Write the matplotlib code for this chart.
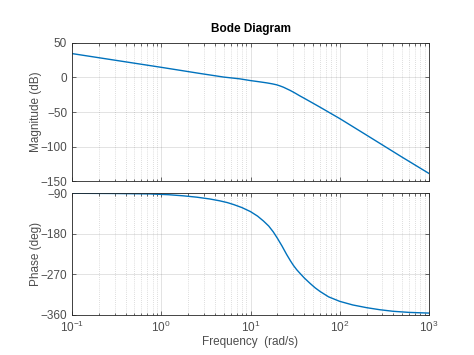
import numpy as np
import matplotlib
matplotlib.use("Agg")
import matplotlib.pyplot as plt

# values
freq_mag = [0.1, 0.3, 1, 2.72, 5, 7.6, 10, 12.5, 15.2, 17.5, 19.6, 21.4, 23.5, 25.4,
            27.7, 31, 35.9, 41, 46.4, 53, 60.1, 68, 77.6, 100, 200, 500, 1000]
mag_db = [34.6, 25.1, 14.7, 5.8, 0.6, -2.0, -4.5, -6.2, -7.8, -9.2, -10.6, -12.2,
          -14.2, -16.3, -18.6, -22.0, -26.8, -30.9, -34.8, -39.0, -43.0, -47.0,
          -51.3, -59.5, -83.5, -115.4, -139.0]

freq_ph = [0.1, 0.3, 0.75, 1.2, 1.77, 2.5, 3.5, 4.5, 5.5, 6.5, 8, 10, 12, 14, 16,
           18, 20, 22.5, 25.4, 28, 30.2, 33, 35.9, 40, 46.4, 53, 60.1, 75, 100,
           140, 200, 280, 395, 600, 1000]
phase_deg = [-90.3, -90.8, -91.8, -93.5, -96, -99, -103, -107, -111, -115.5, -122,
             -131, -141, -152, -163, -176, -190, -207, -226, -240, -250, -260,
             -268, -278, -290, -300, -308, -320, -330, -338, -344, -348.5, -352,
             -354.5, -356]

mag_ticks = [50, 0, -50, -100, -150]
phase_ticks = [-90, -180, -270, -360]

plt.rcParams['font.family'] = ['Liberation Sans', 'DejaVu Sans']
line_col = "#0072BD"
ax_col = "#4d4d4d"

fig = plt.figure(figsize=(4.74, 3.55), dpi=100)
ax1 = fig.add_axes([0.152, 0.490, 0.753, 0.389])
ax2 = fig.add_axes([0.152, 0.113, 0.753, 0.343])

for ax in (ax1, ax2):
    ax.set_xscale("log")
    ax.set_xlim(0.1, 1000)
    ax.grid(True, which="major", color="#262626", alpha=0.15, linewidth=0.6)
    ax.grid(True, which="minor", color="#262626", alpha=0.3, linewidth=0.5,
            linestyle=(0, (1, 2)))
    ax.tick_params(which="both", direction="in", top=True, right=True, colors=ax_col,
                   labelsize=8.5, width=0.6)
    ax.tick_params(which="major", length=3)
    ax.tick_params(which="minor", length=1.8)
    for s in ax.spines.values():
        s.set_color("#262626")
        s.set_linewidth(0.6)

ax1.plot(freq_mag, mag_db, color=line_col, linewidth=1.0)
ax1.set_ylim(-150, 50)
ax1.set_yticks(mag_ticks)
ax1.tick_params(labelbottom=False)
ax1.set_ylabel("Magnitude (dB)", color=ax_col, fontsize=8.5)
ax1.yaxis.set_label_coords(-0.084, 0.5)
ax1.set_title("Bode Diagram", fontsize=8.5, fontweight="bold", pad=8)

ax2.plot(freq_ph, phase_deg, color=line_col, linewidth=1.0)
ax2.set_ylim(-360, -90)
ax2.set_yticks(phase_ticks)
ax2.set_ylabel("Phase (deg)", color=ax_col, fontsize=8.5)
ax2.yaxis.set_label_coords(-0.084, 0.5)
ax2.set_xlabel("Frequency  (rad/s)", color=ax_col, fontsize=8.5, labelpad=1)

fig.savefig("out.png", dpi=100)
